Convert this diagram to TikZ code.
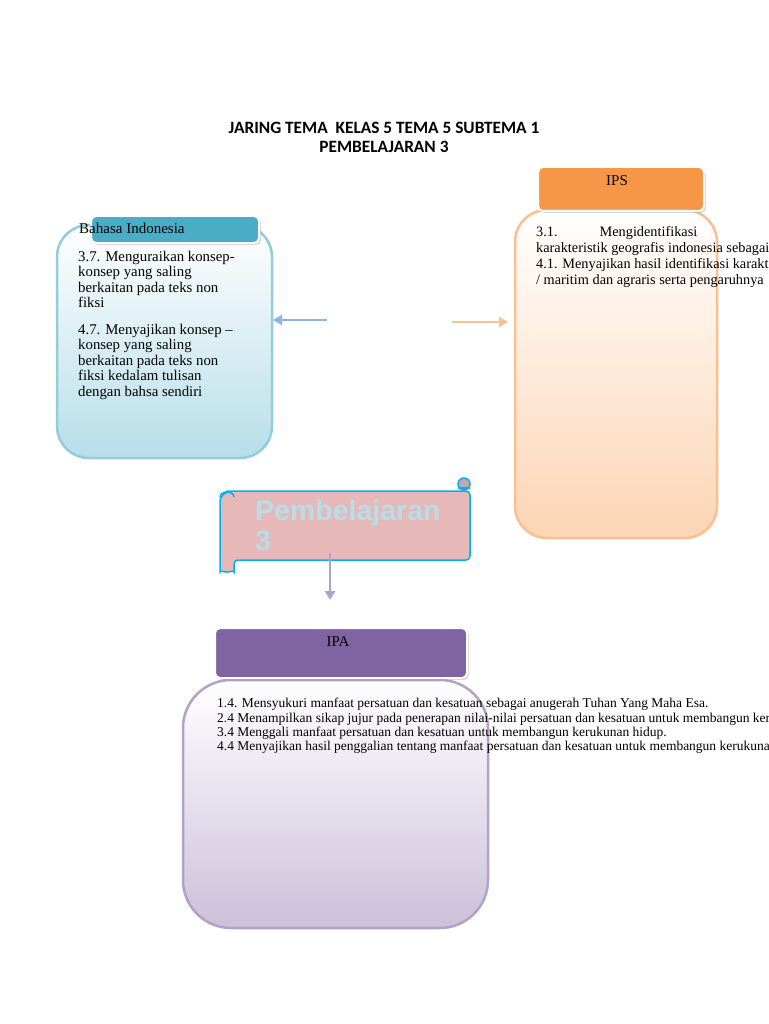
\documentclass[tikz,border=0pt]{standalone}
\usepackage{fontspec}
\setmainfont{Liberation Serif}
\newfontfamily\titlefont{Carlito}
\newfontfamily\arialfont{Liberation Sans}
\usetikzlibrary{shadows,arrows.meta}
\definecolor{bibord}{HTML}{93CDDD}\definecolor{bifill}{HTML}{B7DEE8}\definecolor{bihead}{HTML}{4BACC6}
\definecolor{ipsbord}{HTML}{FAC090}\definecolor{ipsfill}{HTML}{FCD5B4}\definecolor{ipshead}{HTML}{F79646}
\definecolor{ipabord}{HTML}{B3A2C7}\definecolor{ipafill}{HTML}{CCC0DA}\definecolor{ipahead}{HTML}{8064A2}
\definecolor{scrfill}{HTML}{E6B9B8}\definecolor{scrbord}{HTML}{00B0F0}\definecolor{scrtext}{HTML}{B7DEE8}
\definecolor{arrblue}{HTML}{8EB4E3}
\tikzset{
 bigbox/.style={line width=2.5pt,rounded corners=32pt},
 headbox/.style={draw=white,line width=2pt,rounded corners=5pt,drop shadow={shadow xshift=2pt,shadow yshift=-2pt,opacity=0.3}},
 conn/.style={line width=2.5pt,-{Triangle[length=9pt,width=10pt]}},
 body/.style={font=\fontsize{14.8}{15.5}\selectfont,align=left,anchor=north west,inner sep=0pt},
 headtext/.style={font=\fontsize{15}{16}\selectfont},
}
\begin{document}
\begin{tikzpicture}[x=1pt,y=-1pt]
\useasboundingbox (0,0) rectangle (768,1024);
\clip (0,0) rectangle (768,1024);
\fill[white] (0,0) rectangle (768,1024);
% title
\node[font=\titlefont\bfseries\fontsize{17.3}{19}\selectfont,align=center] (title) at (384,137) {JARING TEMA \ KELAS 5 TEMA 5 SUBTEMA 1\\PEMBELAJARAN 3};
% Bahasa Indonesia
\shade[top color=white,bottom color=bifill] [bigbox] (57,225) rectangle (272,458);
\draw[bigbox,draw=bibord] (57,225) rectangle (272,458);
\node[headbox,fill=bihead,minimum width=168pt,minimum height=27pt,anchor=north west] (bihd) at (90,215) {};
\node[anchor=west,inner sep=0pt,headtext] (bit) at (79,228) {Bahasa Indonesia};
\node[body] (bibody) at (78,251) {3.7. Menguraikan konsep-\\konsep yang saling\\berkaitan pada teks non\\fiksi\\[11pt]4.7. Menyajikan konsep –\\konsep yang saling\\berkaitan pada teks non\\fiksi kedalam tulisan\\dengan bahsa sendiri};
\coordinate (bi) at (273,320);
% IPS
\shade[top color=white,bottom color=ipsfill] [bigbox] (515,210) rectangle (717,538);
\draw[bigbox,draw=ipsbord] (515,210) rectangle (717,538);
\node[headbox,fill=ipshead,minimum width=166pt,minimum height=44pt,anchor=north west] (ipshd) at (537,166) {};
\node[headtext] (ipst) at (617,181) {IPS};
\node[body,font=\fontsize{14.3}{16}\selectfont] (ipsbody) at (536,226) {3.1.\hspace{42pt}Mengidentifikasi\\karakteristik geografis indonesia sebagai negara kepulauan\\4.1. Menyajikan hasil identifikasi karakteristik geografis indonesia\\/ maritim dan agraris serta pengaruhnya};
\coordinate (ips) at (508,322);
% arrows from center
\coordinate (cl) at (327,320);
\coordinate (cr) at (452,322);
\draw[conn,arrblue] (cl) -- (bi);
\draw[conn,ipsbord] (cr) -- (ips);
% scroll
\draw[scrbord,line width=1.5pt,fill=scrfill,rounded corners=4pt] (228,491) -- (470,491) -- (470,560) -- (234,560) -- (234,568) arc (0:-180:7pt and 4pt) -- (220,497) -- cycle;
\draw[scrbord,line width=1.5pt] (220,497) arc (180:0:7pt and 5pt) (231,494) arc(0:180:3pt);
\draw[scrbord,line width=1.5pt,fill=scrfill!70!gray] (464,484) circle[radius=6pt];
\draw[scrbord,line width=1.5pt] (458,488) -- (470,488);
\node[anchor=north west,inner sep=0pt,font=\arialfont\bfseries\fontsize{28.5}{30}\selectfont,text=scrtext,align=left] (scroll) at (255,500) {Pembelajaran\\3};
\coordinate (sd) at (330,553);
% IPA
\shade[top color=white,bottom color=ipafill] [bigbox,rounded corners=48pt] (183,680) rectangle (488,928);
\draw[bigbox,rounded corners=48pt,draw=ipabord] (183,680) rectangle (488,928);
\node[headbox,fill=ipahead,minimum width=252pt,minimum height=50pt,anchor=north west] (ipahd) at (214,627) {};
\node[headtext] (ipat) at (338,642) {IPA};
\node[body,font=\fontsize{13.5}{14.4}\selectfont] (ipabody) at (217,698) {1.4. Mensyukuri manfaat persatuan dan kesatuan sebagai anugerah Tuhan Yang Maha Esa.\\2.4 Menampilkan sikap jujur pada penerapan nilai-nilai persatuan dan kesatuan untuk membangun kerukunan hidup.\\3.4 Menggali manfaat persatuan dan kesatuan untuk membangun kerukunan hidup.\\4.4 Menyajikan hasil penggalian tentang manfaat persatuan dan kesatuan untuk membangun kerukunan hidup.};
\coordinate (ipa) at (330,600);
\draw[conn,ipabord] (sd) -- (ipa);
\end{tikzpicture}
\end{document}
